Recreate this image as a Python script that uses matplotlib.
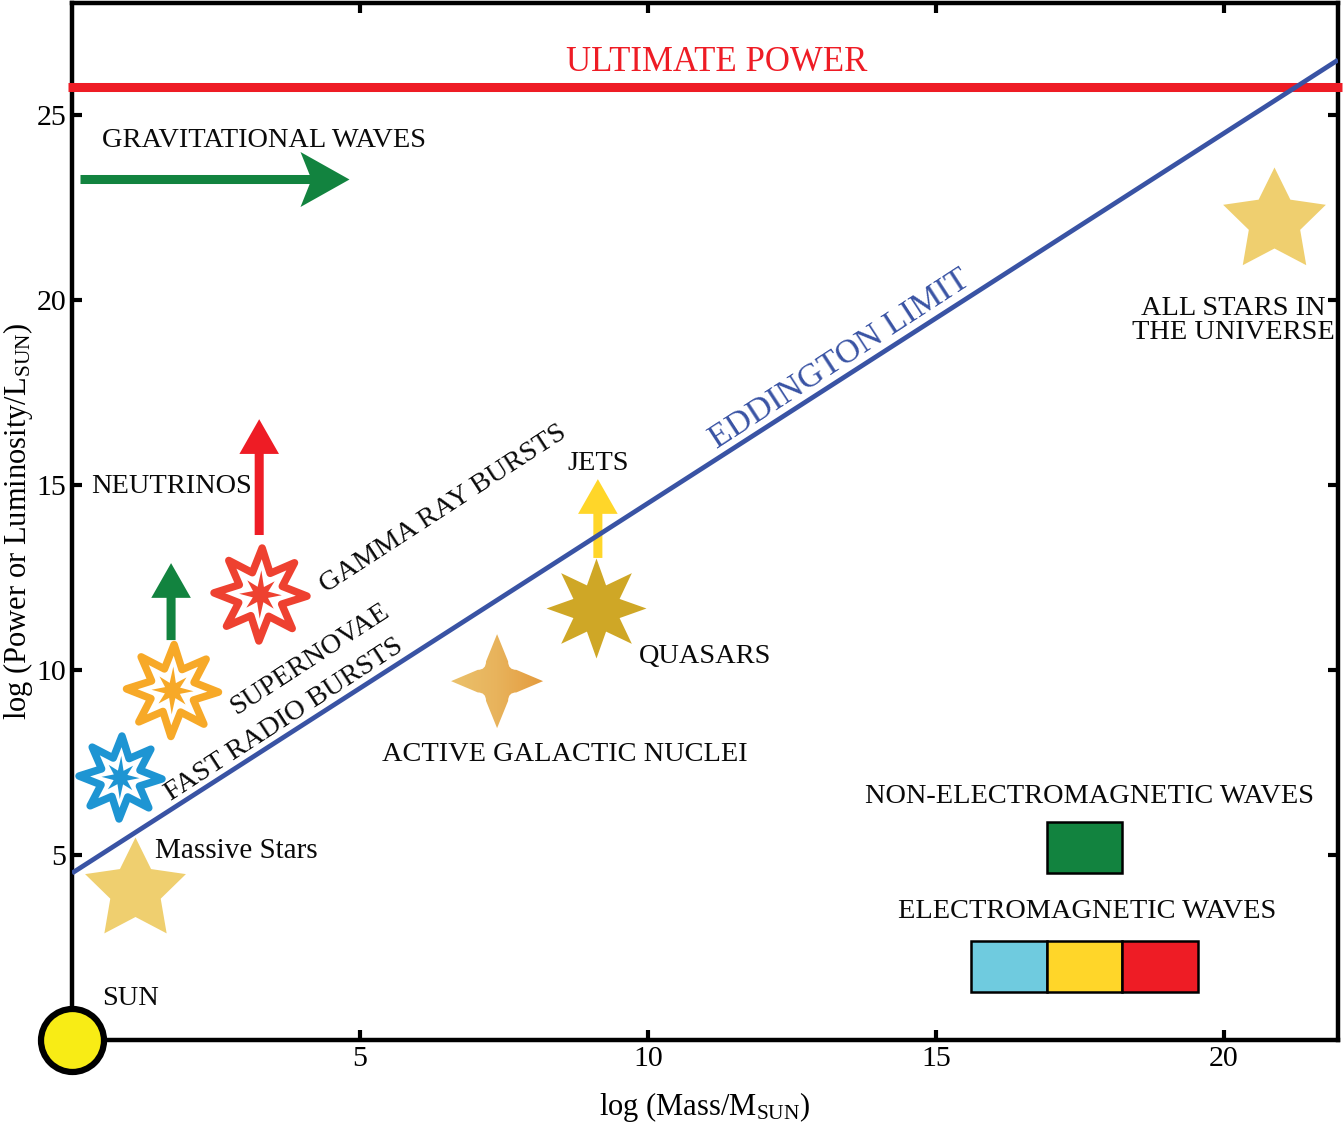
import numpy as np
import matplotlib
matplotlib.use("Agg")
import matplotlib.pyplot as plt
from matplotlib.path import Path
from matplotlib.patches import PathPatch
from matplotlib.transforms import Affine2D
from matplotlib.colors import LinearSegmentedColormap

plt.rcParams['font.family'] = ['Liberation Serif', 'DejaVu Serif']
plt.rcParams['mathtext.fontset'] = 'custom'
plt.rcParams['mathtext.rm'] = 'Liberation Serif'
plt.rcParams['mathtext.default'] = 'rm'

# ---- data ----
x_ticks = [5, 10, 15, 20]
y_ticks = [5, 10, 15, 20, 25]
ultimate_power = 25.76
eddington_x = [0, 21.98]
eddington_y = [4.51, 26.49]

burst_names = ['Fast radio bursts', 'Supernovae', 'Gamma ray bursts']
burst_x = [0.83, 1.74, 3.27]
burst_y = [7.1, 9.46, 12.05]

massive_x, massive_y = 1.09, 4.05
all_stars_x, all_stars_y = 20.87, 22.14
quasar_x, quasar_y = 9.1, 11.68
agn_x, agn_y = 7.38, 9.7
sun_x, sun_y = 0, 0

gw_start_x, gw_end_x, gw_y = 0.14, 4.81, 23.27

arrow_names = ['Neutrinos', 'Supernova', 'Jets']
arrow_x = [3.25, 1.72, 9.13]
arrow_start_y = [13.65, 10.81, 13.03]
arrow_end_y = [16.78, 12.89, 15.16]

legend_em_edges = [15.6, 16.93, 18.23, 19.55]
legend_em_bottom, legend_em_top = 1.30, 2.68
legend_nonem_edges = [16.93, 18.23]
legend_nonem_bottom, legend_nonem_top = 4.51, 5.89

plain_labels = ['GRAVITATIONAL WAVES', 'NEUTRINOS', 'JETS', 'QUASARS',
                'ACTIVE GALACTIC NUCLEI', 'SUN',
                'ALL STARS IN\nTHE UNIVERSE', 'NON-ELECTROMAGNETIC WAVES',
                'ELECTROMAGNETIC WAVES']
plain_x = [3.33, 1.72, 9.13, 10.99, 8.56, 1.02, 20.17, 17.66, 17.62]
plain_y = [24.32, 14.97, 15.59, 10.37, 7.72, 1.13, 19.45, 6.59, 3.48]

slanted_labels = ['GAMMA RAY BURSTS', 'SUPERNOVAE', 'FAST RADIO BURSTS']
slanted_x = [6.45, 4.13, 3.68]
slanted_y = [14.34, 10.28, 8.66]

GREEN, CYAN, YELLOW, RED = '#12833F', '#6FCBDF', '#FFD629', '#EE1C25'
BLUE = '#3953A4'
GOLD = '#EFCF6F'


def star(n, r_in, rot=0.0):
    a = np.pi / 2 + np.deg2rad(rot) - np.arange(2 * n) * np.pi / n
    r = np.where(np.arange(2 * n) % 2 == 0, 1.0, r_in)
    v = np.column_stack([r * np.cos(a), r * np.sin(a)])
    return Path(np.vstack([v, v[0]]), closed=True)


def core_star(rot=-2.0):
    r = np.array([1.0, .34, .80, .34, .88, .34, .80, .34,
                  1.0, .34, .80, .34, .88, .34, .80, .34])
    a = np.pi / 2 + np.deg2rad(rot) - np.arange(16) * np.pi / 8
    v = np.column_stack([r * np.cos(a), r * np.sin(a)])
    return Path(np.vstack([v, v[0]]), closed=True)


def four_star():
    verts, codes = [(0, 1)], [Path.MOVETO]
    for k in range(4):
        rot = np.array([[0, 1], [-1, 0]])
        m = np.linalg.matrix_power(rot, k)
        for p, c in [((.24, .42), Path.LINETO), ((.24, .24), Path.CURVE3),
                     ((.42, .24), Path.CURVE3), ((1, 0), Path.LINETO)]:
            verts.append(tuple(m @ np.array(p)))
            codes.append(c)
    return Path(verts, codes)


def notched_head():
    return Path([(0, 0), (-49, 27.5), (-38, 0), (-49, -27.5), (0, 0)],
                [Path.MOVETO, Path.LINETO, Path.LINETO, Path.LINETO, Path.CLOSEPOLY])


PX = 0.72
fig = plt.figure(figsize=(13.44, 11.24), dpi=100)
ax = fig.add_axes([72 / 1344, 84 / 1124, 1266 / 1344, 1037 / 1124])
ax.set_xlim(0, 21.98)
ax.set_ylim(0, 28.03)

for s in ax.spines.values():
    s.set_linewidth(3.2)
ax.set_xticks(x_ticks)
ax.set_yticks(y_ticks)
ax.tick_params(direction='in', length=7, width=3, top=True, right=True, labelsize=21.5, pad=4)

ax.set_xlabel(r'log (Mass/M$_{SUN}$)', fontsize=22, va='center')
ax.xaxis.set_label_coords(0.5, -0.0645)
ax.set_ylabel(r'log (Power or Luminosity/L$_{SUN}$)', fontsize=22, va='center')
ax.yaxis.set_label_coords(-0.0430, 0.5)

# limits
ax.plot([-0.07, 22.05], [ultimate_power, ultimate_power], color=RED, lw=6.5,
        solid_capstyle='butt', clip_on=False, zorder=3)

# gravitational-wave arrow with notched head
ax.plot([gw_start_x, gw_end_x - 36 / 57.6], [gw_y, gw_y], color=GREEN, lw=6.5,
        solid_capstyle='butt', zorder=2)
ax.plot([gw_end_x], [gw_y], marker=notched_head(), ms=98 * PX, mfc=GREEN, mec='none', ls='none', zorder=2)

# vertical arrows
arrow_cols = [RED, GREEN, YELLOW]
for i in range(3):
    ax.annotate('', xy=(arrow_x[i], arrow_end_y[i]), xytext=(arrow_x[i], arrow_start_y[i]),
                arrowprops=dict(facecolor=arrow_cols[i], edgecolor='none', width=6.5,
                                headwidth=28.5, headlength=25, shrink=0),
                zorder=2)

ax.plot(eddington_x, eddington_y, color=BLUE, lw=3.4, solid_capstyle='butt', zorder=4)

# gold stars
five = star(5, 0.5)
ax.plot([massive_x], [massive_y], marker=five, ms=106 * PX, mfc=GOLD, mec='none', ls='none', zorder=5)
ax.plot([all_stars_x], [all_stars_y], marker=five, ms=108 * PX, mfc=GOLD, mec='none', ls='none', zorder=5)

# quasar
ax.plot([quasar_x], [quasar_y], marker=star(8, 0.5), ms=100 * PX, mfc='#CFA726', mec='none', ls='none', zorder=5)

# bursts
burst_cols = ['#1E95D3', '#F7A928', '#EE4130']
burst_r = [41.5, 46, 46.5]
outer = star(8, 0.5, -2)
core = core_star(-2)
for i in range(3):
    ax.plot([burst_x[i]], [burst_y[i]], marker=outer, ms=2 * burst_r[i] * PX, mfc='white',
            mec=burst_cols[i], mew=5.4, ls='none', zorder=5)
    ax.plot([burst_x[i]], [burst_y[i]], marker=core, ms=2 * 0.52 * burst_r[i] * PX, mfc=burst_cols[i],
            mec='none', ls='none', zorder=6)

# AGN with gradient
fig.canvas.draw()
cx, cy = ax.transData.transform((agn_x, agn_y))
patch = PathPatch(four_star(), transform=Affine2D().scale(46, 47).translate(cx, cy),
                  facecolor='none', edgecolor='none')
ax.add_patch(patch)
cmap = LinearSegmentedColormap.from_list('agn', ['#EBC26C', '#E8B35C', '#E49A3C'])
img = ax.imshow(np.linspace(0, 1, 64)[None, :], cmap=cmap, aspect='auto', interpolation='bilinear',
                extent=[agn_x - 0.85, agn_x + 0.85, agn_y - 1.3, agn_y + 1.3], zorder=5)
img.set_clip_path(patch)
ax.set_xlim(0, 21.98)
ax.set_ylim(0, 28.03)

# sun
ax.plot([sun_x], [sun_y], marker='o', ms=63 * PX, mfc='#F8EC15', mec='black', mew=4.5, ls='none',
        clip_on=False, zorder=7)

# legend swatches
ax.bar(legend_nonem_edges[:-1], legend_nonem_top - legend_nonem_bottom, width=np.diff(legend_nonem_edges),
       bottom=legend_nonem_bottom, align='edge', color=GREEN, edgecolor='black', linewidth=1.8, zorder=5)
ax.bar(legend_em_edges[:-1], legend_em_top - legend_em_bottom, width=np.diff(legend_em_edges),
       bottom=legend_em_bottom, align='edge', color=[CYAN, YELLOW, RED], edgecolor='black',
       linewidth=1.8, zorder=5)

# text
ax.text(11.2, 26.43, 'ULTIMATE POWER', color=RED, fontsize=25, ha='center', va='center')
for s, x, y in zip(plain_labels, plain_x, plain_y):
    ax.text(x, y, s, fontsize=20.4, ha='center', va='center', linespacing=0.97, color='#0a0a0a', zorder=8)
ax.text(2.85, 5.1, 'Massive Stars', fontsize=21, ha='center', va='center', color='#0a0a0a', zorder=8)
for s, x, y in zip(slanted_labels, slanted_x, slanted_y):
    ax.text(x, y, s, fontsize=20.4, ha='center', va='center', rotation=33, rotation_mode='anchor',
            color='#0a0a0a', zorder=8)
ax.text(13.33, 18.41, 'EDDINGTON LIMIT', fontsize=24.6, color=BLUE, ha='center', va='center', rotation=33,
        rotation_mode='anchor', zorder=8)

fig.savefig('out.png', dpi=100)
